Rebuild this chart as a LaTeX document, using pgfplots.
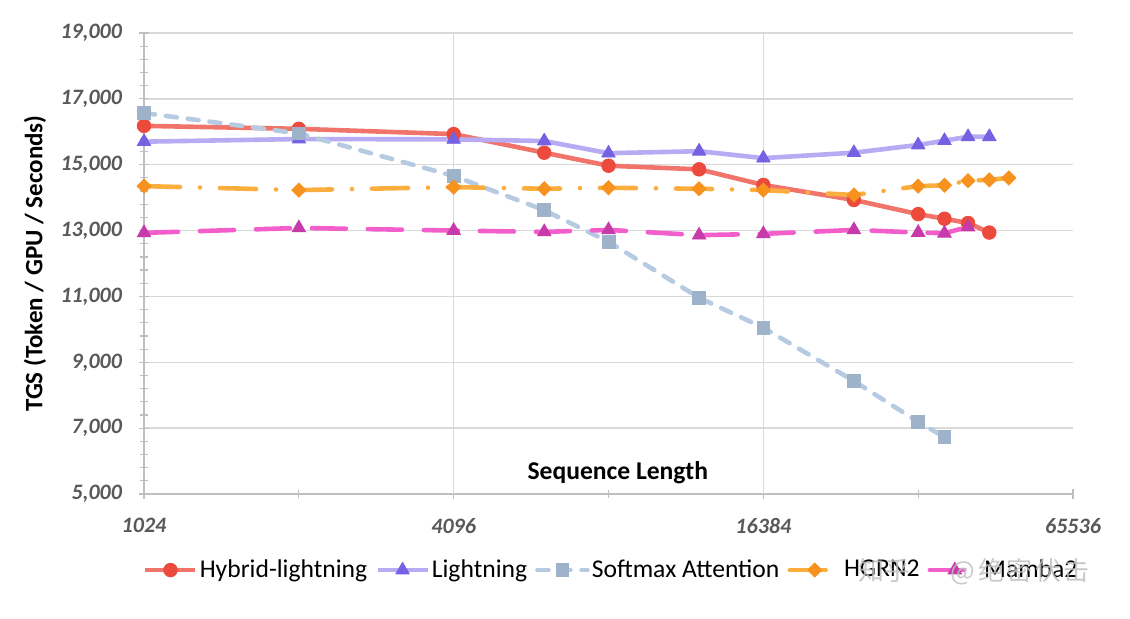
\documentclass[border=0pt]{standalone}
\usepackage{pgfplots}
\pgfplotsset{compat=1.18}
\usepackage{fontspec}
\setmainfont{Carlito}
\newfontfamily\cjk{Noto Sans CJK SC}

\definecolor{hlLine}{HTML}{F0746A}
\definecolor{hlMark}{HTML}{EC4A3C}
\definecolor{ltLine}{HTML}{B9AAF4}
\definecolor{ltMark}{HTML}{7561E2}
\definecolor{smLine}{HTML}{B6CAE2}
\definecolor{smMark}{HTML}{9EB3CA}
\definecolor{hgLine}{HTML}{FAAE3E}
\definecolor{hgMark}{HTML}{F7921E}
\definecolor{mbLine}{HTML}{F25ECA}
\definecolor{mbMark}{HTML}{C73AAA}
\definecolor{gridgray}{HTML}{D9D9D9}
\definecolor{axisgray}{HTML}{BFBFBF}
\definecolor{ticktext}{HTML}{595959}

\begin{document}
\begin{tikzpicture}
\path[use as bounding box] (0,0) rectangle (565pt,309pt);
\begin{axis}[
  at={(72pt,62pt)}, anchor=south west,
  width=464.5pt, height=230.5pt, scale only axis,
  xmode=log,
  xmin=1024, xmax=65536, ymin=5000, ymax=19000,
  xtick={1024,4096,16384,65536},
  xticklabels={1024,4096,16384,65536},
  minor xtick={2048,8192,32768},
  extra x ticks={4096,16384},
  extra x tick labels={},
  extra x tick style={grid=major, major tick length=0pt},
  ytick={5000,7000,...,19000},
  minor y tick num=4,
  scaled y ticks=false,
  ymajorgrids,
  grid style={draw=gridgray, line width=0.7pt},
  axis lines=left,
  axis line style={-, draw=axisgray, line width=0.8pt},
  tick style={draw=axisgray, line width=0.6pt},
  tick align=center,
  major tick length=5pt, minor tick length=4pt,
  /pgf/number format/assume math mode=true,
  /pgf/number format/fixed,
  /pgf/number format/1000 sep={,},
  yticklabel style={font=\fontsize{11}{13}\selectfont\bfseries\itshape, text=ticktext, xshift=-5pt},
  xticklabel style={font=\fontsize{11}{13}\selectfont\bfseries\itshape, text=ticktext, yshift=-6pt},
  xlabel={Sequence Length},
  ylabel={TGS (Token / GPU / Seconds)},
  xlabel style={at={(rel axis cs:0.51,0)}, anchor=center, yshift=10.5pt,
    font=\fontsize{12.8}{15}\selectfont\bfseries},
  ylabel style={at={(rel axis cs:0,0.5)}, anchor=center, yshift=54.5pt,
    font=\fontsize{12.5}{15}\selectfont\bfseries},
  legend columns=5,
  legend cell align=left,
  legend style={at={(0.503,-0.165)}, anchor=center, draw=none, fill=none,
    font=\fontsize{12.8}{15}\selectfont, inner sep=0pt,
    nodes={inner xsep=1pt, inner ysep=2pt},
    /tikz/every odd column/.style={column sep=0pt},
    /tikz/every even column/.style={column sep=3pt}},
  legend image code/.code={%
    \draw[mark repeat=2, mark phase=2, #1] plot coordinates {(0pt,0pt) (12.5pt,0pt) (25pt,0pt)};},
]
% Hybrid-lightning
\addplot[color=hlLine, line width=2.3pt, line join=round,
  mark=*, mark size=3.4pt, mark options={solid, fill=hlMark, draw=hlMark, line width=0.4pt}]
  table {
  x y
  1024  16180
  2048  16090
  4096  15930
  6144  15365
  8192  14970
  12288 14860
  16384 14385
  24576 13930
  32768 13500
  36864 13360
  40960 13230
  45056 12940
  };
\addlegendentry{Hybrid-lightning}
% Lightning
\addplot[color=ltLine, line width=2.3pt, line join=round,
  mark=triangle*, mark size=3.9pt, mark options={solid, fill=ltMark, draw=ltMark, line width=0.4pt}]
  table {
  x y
  1024  15700
  2048  15780
  4096  15770
  6144  15720
  8192  15350
  12288 15410
  16384 15200
  24576 15365
  32768 15600
  36864 15730
  40960 15850
  45056 15850
  };
\addlegendentry{Lightning}
% Softmax Attention
\addplot[color=smLine, line width=2.3pt, line cap=round, dash pattern=on 5.5pt off 5.5pt,
  mark=square*, mark size=3.2pt, mark options={solid, fill=smMark, draw=smMark, line width=0.4pt}]
  table {
  x y
  1024  16570
  2048  15950
  4096  14660
  6144  13620
  8192  12660
  12288 10960
  16384 10050
  24576 8430
  32768 7190
  36864 6730
  };
\addlegendentry{Softmax Attention}
% HGRN2
\addplot[color=hgLine, line width=2.3pt, line cap=round, dash pattern=on 18pt off 10pt on 0pt off 10pt,
  mark=square*, mark size=2.5pt, mark options={solid, rotate=45, fill=hgMark, draw=hgMark, line width=0.4pt}]
  table {
  x y
  1024  14350
  2048  14230
  4096  14320
  6144  14270
  8192  14300
  12288 14270
  16384 14230
  24576 14080
  32768 14350
  36864 14375
  40960 14515
  45056 14540
  49152 14600
  };
\addlegendentry{HGRN2}
% Mamba2
\addplot[color=mbLine, line width=2.3pt, line cap=round, dash pattern=on 17pt off 11pt,
  mark=triangle*, mark size=3.9pt, mark options={solid, fill=mbMark, draw=mbMark, line width=0.4pt}]
  table {
  x y
  1024  12930
  2048  13080
  4096  13000
  6144  12960
  8192  13020
  12288 12860
  16384 12900
  24576 13020
  32768 12940
  36864 12920
  40960 13110
  };
\addlegendentry{Mamba2}
\end{axis}
% site watermark over the right part of the legend
\node[anchor=west, text=gray!50, opacity=0.85, font=\cjk\fontsize{13}{15}\selectfont, inner sep=0pt]
  at (429pt,23pt) {知乎\hspace{20pt}@\hspace{2pt}绝\hspace{1pt}密\hspace{1pt}伏\hspace{1pt}击};
\end{tikzpicture}
\end{document}
